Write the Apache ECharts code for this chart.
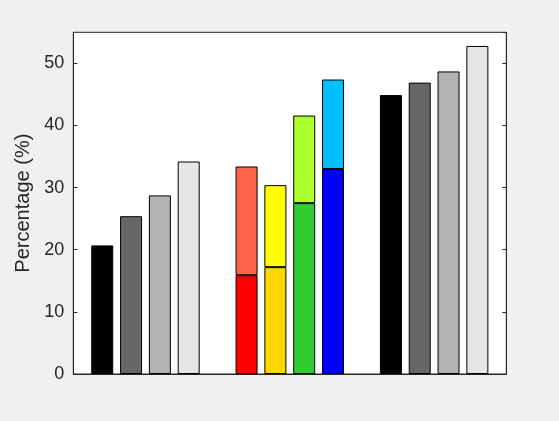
<!DOCTYPE html>
<html>
<head>
<meta charset="utf-8">
<script src="https://cdn.jsdelivr.net/npm/echarts@6/dist/echarts.min.js"></script>
<style>
html,body{margin:0;padding:0;background:#f0f0f0;}
#c{width:559px;height:421px;}
</style>
</head>
<body>
<div id="c"></div>
<script>
// Three groups of four bars; the middle group is split into a lower and upper segment.
var categories = ['Group 1', 'Group 2', 'Group 3'];
var group1 = [20.7, 25.4, 28.75, 34.2];
var group2Lower = [15.9, 17.2, 27.5, 33.0];
var group2Upper = [17.5, 13.2, 14.1, 14.4];   // segment heights on top of the lower part
var group3 = [44.9, 46.9, 48.7, 52.8];
var greyColors = ['#000000', '#666666', '#b3b3b3', '#e6e6e6'];
var lowerColors = ['#ff0000', '#ffd700', '#32cd32', '#0000ff'];
var upperColors = ['#ff6347', '#ffff00', '#adff2f', '#00bfff'];
var yTicks = [0, 10, 20, 30, 40, 50];

var axisColor = '#262626';
var font = 'Liberation Sans, Arial, Helvetica, sans-serif';

var series = [];
for (var i = 0; i < 4; i++) {
  series.push({
    type: 'bar',
    stack: 's' + i,
    barWidth: 22,
    barGap: '31%',
    itemStyle: {borderColor: '#000', borderWidth: 1},
    emphasis: {disabled: true},
    data: [
      {value: group1[i], itemStyle: {color: greyColors[i]}},
      {value: group2Lower[i], itemStyle: {color: lowerColors[i]}},
      {value: group3[i], itemStyle: {color: greyColors[i]}}
    ]
  });
  series.push({
    type: 'bar',
    stack: 's' + i,
    barWidth: 22,
    barGap: '31%',
    itemStyle: {borderColor: '#000', borderWidth: 1},
    emphasis: {disabled: true},
    data: [
      null,
      {value: group2Upper[i], itemStyle: {color: upperColors[i]}},
      null
    ]
  });
}

var chart = echarts.init(document.getElementById('c'), null, {renderer: 'canvas'});
chart.setOption({
  backgroundColor: '#f0f0f0',
  animation: false,
  grid: {
    left: 73.3, right: 52.7, top: 32.3, bottom: 47,
    show: true, backgroundColor: '#ffffff', borderColor: axisColor, borderWidth: 1
  },
  xAxis: {
    type: 'category',
    data: categories,
    axisLine: {show: true, lineStyle: {color: axisColor}},
    axisTick: {show: false},
    axisLabel: {show: false},
    splitLine: {show: false}
  },
  yAxis: [{
    type: 'value',
    min: 0, max: 55, interval: 10,
    name: 'Percentage (%)',
    nameLocation: 'middle',
    nameGap: 35,
    nameTextStyle: {fontFamily: font, fontSize: 20, color: axisColor},
    axisLine: {show: true, lineStyle: {color: axisColor}},
    axisTick: {show: true, inside: true, length: 4, lineStyle: {color: axisColor}},
    axisLabel: {
      fontFamily: font, fontSize: 18, color: axisColor, margin: 9,
      showMaxLabel: false,
      formatter: function (v) { return yTicks.indexOf(v) >= 0 ? String(v) : ''; }
    },
    splitLine: {show: false}
  }, {
    type: 'value',
    position: 'right',
    min: 0, max: 55, interval: 10,
    axisLine: {show: true, lineStyle: {color: axisColor}},
    axisTick: {show: true, inside: true, length: 4, lineStyle: {color: axisColor}},
    axisLabel: {show: false},
    splitLine: {show: false}
  }],
  series: series
});
</script>
</body>
</html>
